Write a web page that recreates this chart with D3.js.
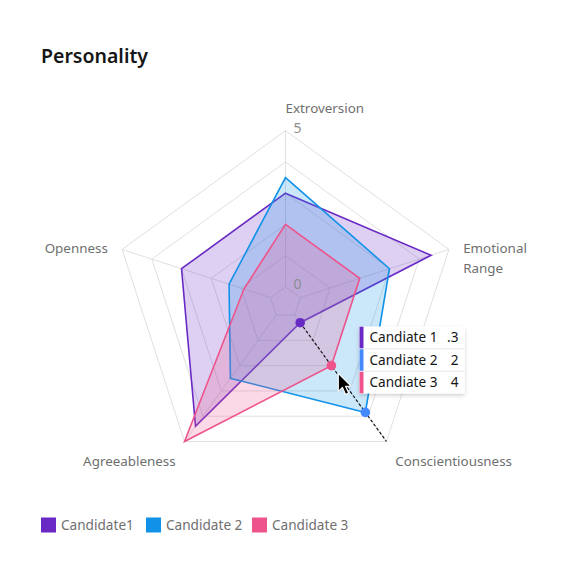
<!DOCTYPE html>
<html>
<head>
<meta charset="utf-8">
<script src="https://cdn.jsdelivr.net/npm/d3@7"></script>
<style>
  html, body { margin: 0; padding: 0; background: #ffffff; }
  svg { display: block; font-family: "Noto Sans", "Open Sans", sans-serif; }
</style>
</head>
<body>
<svg id="chart" width="576" height="576"></svg>
<script>
// ---- data ----
const axesNames = ["Extroversion", "Emotional Range", "Conscientiousness", "Agreeableness", "Openness"];
const seriesNames = ["Candidate1", "Candidate 2", "Candidate 3"];
const candidate1 = [3, 4.4, 0.3, 4.4, 3];
const candidate2 = [3.5, 3, 3.85, 2.5, 1.4];
const candidate3 = [2, 2, 2, 5, 0.9];
const radialTicks = [0, 1, 2, 3, 4, 5];
const tickLabels = [0, 5];
const tooltipNames = ["Candiate 1", "Candiate 2", "Candiate 3"];
const tooltipValues = [".3", "2", "4"];
const hoverAxis = "Conscientiousness";

// ---- styles ----
const colors = ["#6929c4", "#1192e8", "#ee538b"];
const dotColors = ["#6929c4", "#4589ff", "#ee538b"];
const cx = 285.5, cy = 302.5;
const svg = d3.select("#chart");

const series = [candidate1, candidate2, candidate3].map((vals, i) => ({ name: seriesNames[i], values: vals, color: colors[i] }));

const r = d3.scaleLinear().domain([0, 5]).range([15.6, 171.8]);
const angle = d3.scaleLinear().domain([0, axesNames.length]).range([0, 2 * Math.PI]);
const pt = (i, v) => [cx + r(v) * Math.sin(angle(i)), cy - r(v) * Math.cos(angle(i))];

// title
svg.append("text").attr("x", 41).attr("y", 63)
  .attr("font-size", 19.5).attr("font-weight", 600).attr("fill", "#161616")
  .text("Personality");

const g = svg.append("g");

// grid rings
const ringLine = d3.lineRadial().angle((d, i) => angle(i)).radius(d => r(d)).curve(d3.curveLinearClosed);
g.append("g").selectAll("path").data(radialTicks).join("path")
  .attr("transform", `translate(${cx},${cy})`)
  .attr("d", t => ringLine(axesNames.map(() => t)))
  .attr("fill", "none").attr("stroke", "#e0e0e0").attr("stroke-width", 1);

// axis lines
g.append("g").selectAll("line").data(axesNames).join("line")
  .attr("x1", (d, i) => pt(i, 0)[0]).attr("y1", (d, i) => pt(i, 0)[1])
  .attr("x2", (d, i) => pt(i, 5)[0]).attr("y2", (d, i) => pt(i, 5)[1])
  .attr("stroke", "#e0e0e0").attr("stroke-width", 1);

// series polygons
g.append("g").selectAll("path").data(series).join("path")
  .attr("transform", `translate(${cx},${cy})`)
  .attr("d", s => ringLine(s.values))
  .attr("fill", s => s.color).attr("fill-opacity", 0.22)
  .attr("stroke", s => s.color).attr("stroke-width", 1.6).attr("stroke-linejoin", "miter");

// tick labels
g.append("g").selectAll("text").data(tickLabels).join("text")
  .attr("x", cx + 12).attr("y", t => cy - r(t) + 2)
  .attr("text-anchor", "middle").attr("font-size", 14).attr("fill", "#8d8d8d")
  .text(t => t);

// axis labels
const labelG = g.append("g");
axesNames.forEach((name, i) => {
  const a = angle(i);
  const dx = Math.sin(a), dy = -Math.cos(a);
  const p = pt(i, 5);
  const lx = p[0] + dx * 15;
  let ly = p[1] + dy * 15;
  if (dy < -0.9) ly += -2.5; else if (dy > 0.5) ly += 12; else ly += 8.6;
  const anchor = dx < -0.1 ? "end" : "start";
  const words = name === "Emotional Range" ? ["Emotional", "Range"] : [name];
  const t = labelG.append("text").attr("x", lx).attr("y", ly)
    .attr("text-anchor", anchor).attr("font-size", 13.4).attr("fill", "#6f6f6f");
  words.forEach((w, k) => t.append("tspan").attr("x", lx).attr("dy", k === 0 ? 0 : 19.4).text(w));
});

// hover: dashed line + dots
const hi = axesNames.indexOf(hoverAxis);
const hoverVal = series[0].values[hi];
g.append("line")
  .attr("x1", pt(hi, hoverVal)[0]).attr("y1", pt(hi, hoverVal)[1])
  .attr("x2", pt(hi, 5)[0]).attr("y2", pt(hi, 5)[1])
  .attr("stroke", "#161616").attr("stroke-width", 1.2).attr("stroke-dasharray", "3,2");
g.append("g").selectAll("circle").data(series).join("circle")
  .attr("cx", s => pt(hi, s.values[hi])[0]).attr("cy", s => pt(hi, s.values[hi])[1])
  .attr("r", 4.8).attr("fill", (s, i) => dotColors[i]);

// tooltip
const defs = svg.append("defs");
const f = defs.append("filter").attr("id", "sh").attr("x", "-20%").attr("y", "-20%").attr("width", "140%").attr("height", "160%");
f.append("feDropShadow").attr("dx", 0).attr("dy", 2).attr("stdDeviation", 2).attr("flood-color", "#000").attr("flood-opacity", 0.2);
const tip = svg.append("g").attr("transform", "translate(359.5,326.7)");
const rowH = 21.6, rowGap = 0.9, tipW = 105;
tip.append("rect").attr("width", tipW).attr("height", 3 * rowH + 2 * rowGap).attr("fill", "#fff").attr("filter", "url(#sh)");
const rows = tip.selectAll("g.row").data(tooltipNames).join("g")
  .attr("transform", (d, i) => `translate(0,${i * (rowH + rowGap)})`);
rows.append("rect").attr("width", tipW).attr("height", rowH).attr("fill", "#fff");
rows.append("rect").attr("width", 4).attr("height", rowH).attr("fill", (d, i) => dotColors[i]);
rows.append("text").attr("x", 10).attr("y", rowH / 2 + 5).attr("font-size", 13.6).attr("fill", "#161616").text(d => d);
rows.append("text").attr("x", tipW - 6).attr("y", rowH / 2 + 5).attr("text-anchor", "end").attr("font-size", 13.6).attr("fill", "#161616")
  .text((d, i) => tooltipValues[i]);
tip.selectAll("line.sep").data([1, 2]).join("line")
  .attr("x1", 4).attr("x2", tipW).attr("y1", k => k * (rowH + rowGap) - rowGap / 2).attr("y2", k => k * (rowH + rowGap) - rowGap / 2)
  .attr("stroke", "#e8e8e8").attr("stroke-width", 1);

// mouse cursor
svg.append("path").attr("transform", "translate(338.3,373.3) scale(1.1)")
  .attr("d", "M0,0 L0,16.5 L3.8,12.8 L6.6,19.2 L9.4,18 L6.6,11.8 L11.8,11.8 Z")
  .attr("fill", "#000").attr("stroke", "#fff").attr("stroke-width", 1).attr("stroke-linejoin", "round");

// legend
const legend = svg.append("g").attr("transform", "translate(41,517.5)");
const legX = [0, 105, 211];
const items = legend.selectAll("g").data(series).join("g").attr("transform", (d, i) => `translate(${legX[i]},0)`);
items.append("rect").attr("width", 15).attr("height", 15).attr("fill", d => d.color);
items.append("text").attr("x", 20).attr("y", 12.8).attr("font-size", 13.6).attr("fill", "#6f6f6f").text(d => d.name);
</script>
</body>
</html>
